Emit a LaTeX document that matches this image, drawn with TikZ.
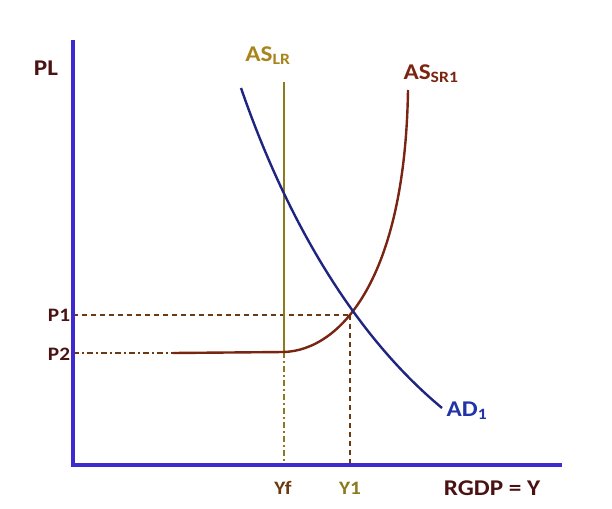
\documentclass[tikz,border=0pt]{standalone}
\usepackage{fontspec}
\setmainfont{Carlito}[FakeStretch=1.12]
\begin{document}
\begin{tikzpicture}[x=1pt,y=-1pt]
\definecolor{axisblue}{HTML}{3B2BD0}
\definecolor{lrcol}{HTML}{8C7A1E}
\definecolor{lrtext}{HTML}{A8841A}
\definecolor{srcol}{HTML}{7A2412}
\definecolor{adcol}{HTML}{1E2580}
\definecolor{adtext}{HTML}{2233A8}
\definecolor{labcol}{HTML}{4A1212}
\definecolor{dashcol}{HTML}{6B3A12}
\tikzset{
  lab/.style={font=\bfseries\fontsize{19}{21}\selectfont, text=labcol, inner sep=0pt},
  biglab/.style={font=\bfseries\fontsize{22.5}{24}\selectfont, inner sep=0pt},
  axisline/.style={draw=axisblue, line width=3.5pt},
  guide/.style={draw=dashcol, line width=1.3pt, dash pattern=on 5pt off 4pt},
  guidedd/.style={draw=dashcol, line width=1.3pt, dash pattern=on 6pt off 3pt on 2pt off 3pt},
}
\useasboundingbox (0,0) rectangle (612,508);
\fill[white] (0,0) rectangle (612,508);
% points
\coordinate (O) at (73,465);
\coordinate (ytop) at (73,40);
\coordinate (xend) at (562,465);
\coordinate (E1) at (350,315);
\coordinate (E2) at (284,352);
\coordinate (p1) at (73,315);
\coordinate (p2) at (73,353);
\coordinate (srstart) at (173,353);
\coordinate (srtop) at (408,90);
\coordinate (lrtop) at (284,82);
\coordinate (lrbot) at (284,465);
\coordinate (y1b) at (350,465);
\coordinate (adtop) at (241,88);
\coordinate (adbot) at (442,408);
% guides
\draw[guide] (p1) -- (E1);
\draw[guidedd] (p2) -- (srstart);
\draw[guide] (E1) -- (y1b);
% LR
\draw[draw=lrcol, line width=1.3pt] (lrtop) -- (E2);
\draw[draw=lrcol, line width=1.3pt, dash pattern=on 6pt off 3pt on 2pt off 3pt] (E2) -- (lrbot);
% SR
\draw[draw=srcol, line width=2.4pt] (srstart) -- (E2) .. controls (340,350) and (405,280) .. (srtop);
% AD
\draw[draw=adcol, line width=2.4pt] (adtop) .. controls (290,230) and (360,340) .. (adbot);
% axes
\draw[axisline] (ytop) -- (73,467);
\draw[axisline] (71.25,465) -- (xend);
% labels
\node[biglab, text=labcol] (PL) at (46,68) {PL};
\node[biglab, text=lrtext] (ASLR) at (268,56) {AS\textsubscript{LR}};
\node[biglab, text=srcol] (ASSR) at (431,74) {AS\textsubscript{SR1}};
\node[biglab, text=adtext] (AD) at (467,411) {AD\textsubscript{1}};
\node[lab] (P1) at (59,315) {P1};
\node[lab] (P2) at (59,354) {P2};
\node[lab, text=dashcol] (Yf) at (283,488) {Yf};
\node[lab, text=lrcol] (Y1) at (350,488) {Y1};
\node[biglab, text=labcol] (RGDP) at (492,488) {RGDP = Y};
\end{tikzpicture}
\end{document}
